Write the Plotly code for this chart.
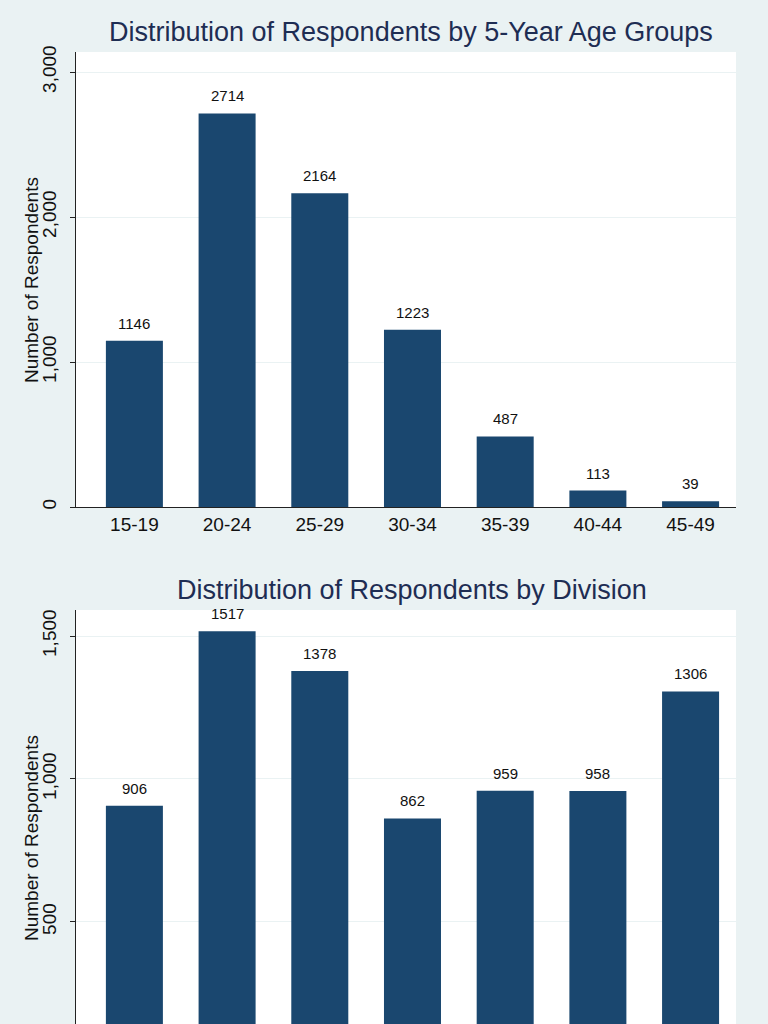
import plotly.graph_objects as go

age_groups = ["15-19", "20-24", "25-29", "30-34", "35-39", "40-44", "45-49"]
age_counts = [1146, 2714, 2164, 1223, 487, 113, 39]

divisions = ["Barisal", "Chittagong", "Dhaka", "Khulna", "Rajshahi", "Rangpur", "Sylhet"]
division_counts = [906, 1517, 1378, 862, 959, 958, 1306]

title_age = "Distribution of Respondents by 5-Year Age Groups"
title_div = "Distribution of Respondents by Division"
y_title = "Number of Respondents"

BAR = "#1a476f"
BG = "#eaf2f3"
FONT = "Liberation Sans, Arial, sans-serif"
W, H = 768, 1024

def px_x(p):
    return p / W

def px_y(p):
    return 1 - p / H

fig = go.Figure()
fig.add_trace(go.Bar(x=age_groups, y=age_counts, marker_color=BAR, marker_line_width=0,
                     width=0.615, xaxis="x", yaxis="y", showlegend=False))
fig.add_trace(go.Bar(x=divisions, y=division_counts, marker_color=BAR, marker_line_width=0,
                     width=0.615, xaxis="x2", yaxis="y2", showlegend=False))

annotations = []
for c, v in zip(age_groups, age_counts):
    annotations.append(dict(x=c, y=v, xref="x", yref="y", text=str(v), showarrow=False,
                            yanchor="bottom", yshift=7, font=dict(size=15, color="#111", family=FONT)))
for c, v in zip(divisions, division_counts):
    annotations.append(dict(x=c, y=v, xref="x2", yref="y2", text=str(v), showarrow=False,
                            yanchor="bottom", yshift=7, font=dict(size=15, color="#111", family=FONT)))

annotations.append(dict(x=px_x(411), y=px_y(32), xref="paper", yref="paper", text=title_age,
                        showarrow=False, xanchor="center", yanchor="middle",
                        font=dict(size=27, color="#1e2d53", family=FONT)))
annotations.append(dict(x=px_x(412), y=px_y(590), xref="paper", yref="paper", text=title_div,
                        showarrow=False, xanchor="center", yanchor="middle",
                        font=dict(size=27, color="#1e2d53", family=FONT)))
annotations.append(dict(x=px_x(31), y=px_y(280), xref="paper", yref="paper", text=y_title,
                        showarrow=False, textangle=-90, xanchor="center", yanchor="middle",
                        font=dict(size=19, color="#111", family=FONT)))
annotations.append(dict(x=px_x(31), y=px_y(838), xref="paper", yref="paper", text=y_title,
                        showarrow=False, textangle=-90, xanchor="center", yanchor="middle",
                        font=dict(size=19, color="#111", family=FONT)))

xdom = [px_x(76), px_x(736)]
common_y = dict(showline=True, linecolor="#222", linewidth=1, ticks="outside", ticklen=5,
                tickcolor="#222", tickangle=-90, gridcolor=BG, gridwidth=1, zeroline=False,
                ticklabelstandoff=6,
                tickfont=dict(size=19, color="#111", family=FONT), automargin=False)
common_x = dict(showline=True, linecolor="#222", linewidth=1, ticks="", showgrid=False,
                tickfont=dict(size=19, color="#111", family=FONT), automargin=False,
                range=[-0.63, 6.49])

fig.update_layout(
    width=W, height=H,
    margin=dict(l=0, r=0, t=0, b=0),
    paper_bgcolor=BG, plot_bgcolor="white",
    annotations=annotations,
    xaxis=dict(domain=xdom, anchor="y", **common_x),
    yaxis=dict(domain=[px_y(507), px_y(52)], anchor="x", range=[0, 3138],
               tickvals=[0, 1000, 2000, 3000], ticktext=["0", "1,000", "2,000", "3,000"], **common_y),
    xaxis2=dict(domain=xdom, anchor="y2", showticklabels=False, **common_x),
    yaxis2=dict(domain=[0, px_y(610)], anchor="x2", range=[143, 1591],
                tickvals=[500, 1000, 1500], ticktext=["500", "1,000", "1,500"], **common_y),
    font=dict(family=FONT),
)

fig.write_html("out.html")
